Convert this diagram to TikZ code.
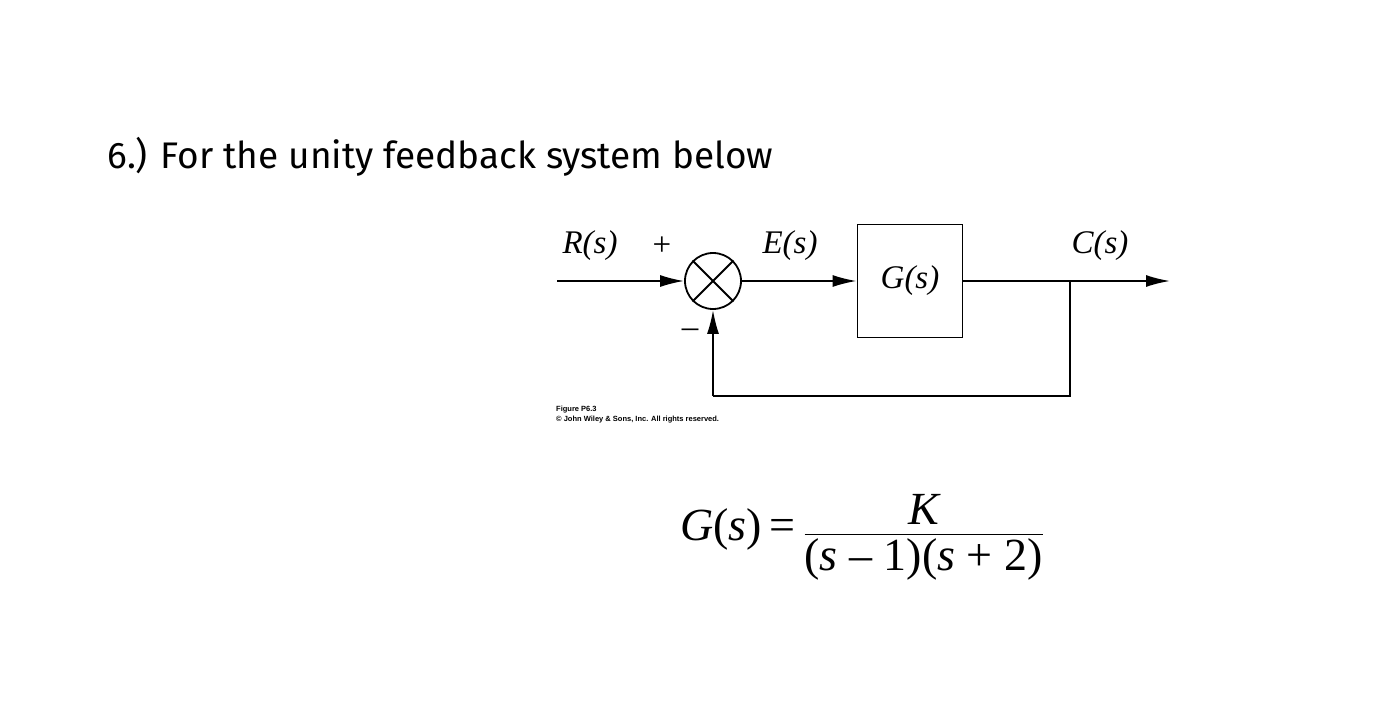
\documentclass[tikz,border=0pt]{standalone}
\usepackage{amsmath}
\usepackage{fontspec}
\setmainfont{Liberation Serif}
\newfontfamily\titlefont{Fira Sans}
\newfontfamily\capfont{Liberation Sans}
\usetikzlibrary{arrows.meta}
\newcommand{\Fs}[1]{#1(\textit{s})}
\begin{document}
\begin{tikzpicture}[x=1pt,y=-1pt,
  sig/.style={line width=1.8pt},
  arr/.style={sig,-{Latex[length=24pt,width=12pt]}},
  lbl/.style={font=\itshape\fontsize{33}{33}\selectfont}]
\useasboundingbox[fill=white] (0,0) rectangle (1374,728);
\node[anchor=west,font=\titlefont\fontsize{37}{37}\selectfont,xscale=1.0] (title) at (104,157) {6.) For the unity feedback system below};
% summing junction
\node[circle,draw,line width=1.8pt,minimum size=56pt,inner sep=0pt] (sum) at (713,281) {};
\draw[line width=1.8pt] (sum.north east) -- (sum.south west) (sum.north west) -- (sum.south east);
\coordinate (in) at (557,281);
\node[draw,line width=1.8pt,minimum width=105pt,minimum height=113pt,inner sep=0pt,lbl] (G) at (910,281) {\Fs{G}};
\coordinate (out) at (1170,281);
\coordinate (br) at (1070,281);
\coordinate (b1) at (1070,396);
\coordinate (b2) at (713,396);
\draw[arr] (in) -- (sum.west);
\draw[arr] (sum.east) -- (G.west);
\draw[arr] (G.east) -- (out);
\draw[sig] (br) -- (b1) -- (b2);
\draw[arr] (b2) -- (sum.south);
\node[lbl] (R) at (590,246) {\Fs{R}};
\node[font=\fontsize{33}{33}\selectfont] (plus) at (662,246) {+};
\node[font=\fontsize{33}{33}\selectfont] (minus) at (690,333) {–};
\node[lbl] (E) at (790,246) {\Fs{E}};
\node[lbl] (C) at (1100,246) {\Fs{C}};
\node[anchor=north west,align=left,inner sep=0pt,font=\capfont\bfseries\fontsize{7.5}{10}\selectfont] (cap) at (556,406) {Figure P6.3\\\textcopyright\ John Wiley \& Sons, Inc. All rights reserved.};
\node[font=\fontsize{46}{46}\selectfont] (eq) at (862,537) {\Fs{\textit{G}}\,=\,$\dfrac{\text{\itshape K}}{\text{(\textit{s} – 1)(\textit{s} + 2)}}$};
\end{tikzpicture}
\end{document}
